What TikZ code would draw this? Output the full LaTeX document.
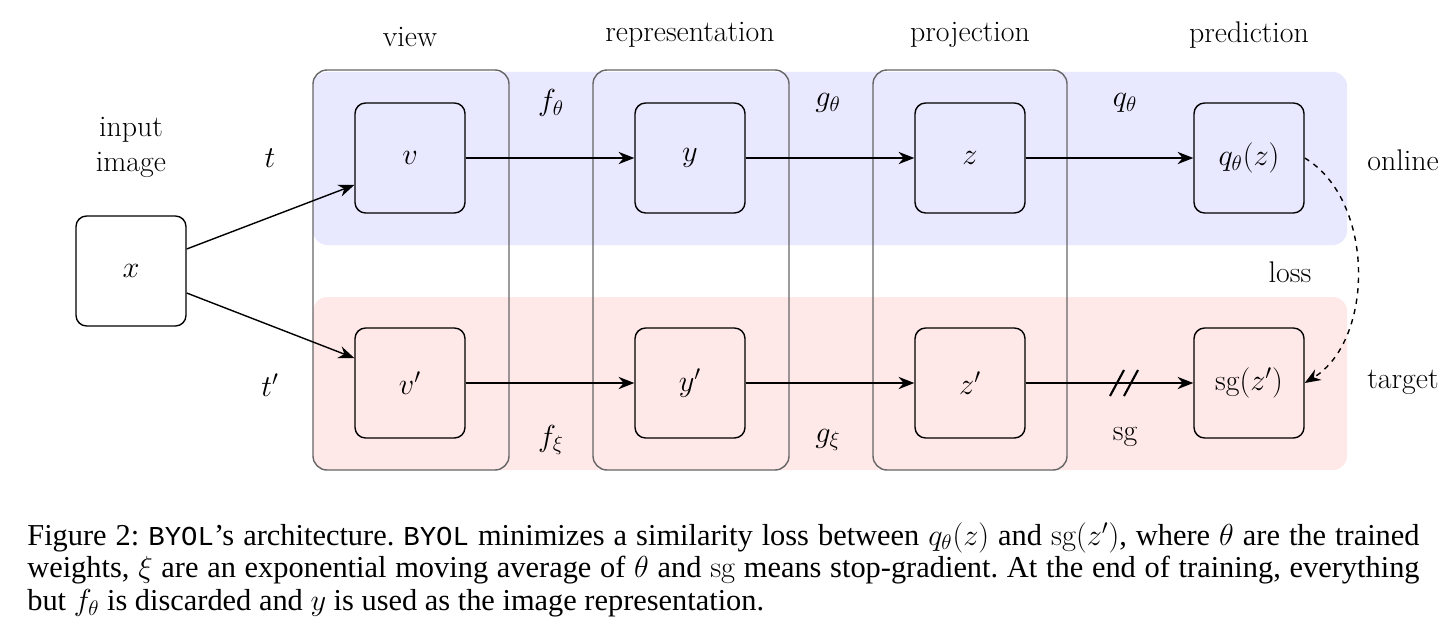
\documentclass[tikz,border=0pt]{standalone}
\usepackage{amsmath}
\usepackage{fontspec}
\newfontfamily\capfont{Liberation Serif}
\newfontfamily\capmono{Liberation Mono}[Scale=0.9]
\usetikzlibrary{arrows.meta}
\begin{document}
\frenchspacing
\begin{tikzpicture}[x=0.02cm,y=-0.02cm,
  box/.style={draw,thick,rounded corners=6pt,minimum width=2.2cm,minimum height=2.2cm,inner sep=0pt},
  grp/.style={draw=black!60,thick,rounded corners=8pt},
  lbl/.style={font=\fontsize{17}{20}\selectfont,align=center},
  arr/.style={-{Stealth[length=9pt,width=7pt]},thick}]
\useasboundingbox (0,0) rectangle (1456,635);
\fill[blue!9,rounded corners=8pt] (313,72) rectangle (1347,245);
\fill[red!9,rounded corners=8pt] (313,297) rectangle (1347,470);
\draw[grp] (313,70) rectangle (509,470);
\draw[grp] (593,70) rectangle (789,470);
\draw[grp] (873,70) rectangle (1067,470);
\begin{scope}[every node/.append style={lbl}]
\node[box,fill=white] (x) at (131,271) {$x$};
\node[box,fill=blue!9] (v) at (410,158) {$v$};
\node[box,fill=blue!9] (y) at (690,158) {$y$};
\node[box,fill=blue!9] (z) at (970,158) {$z$};
\node[box,fill=blue!9] (q) at (1249,158) {$q_\theta(z)$};
\node[box,fill=red!9] (v2) at (410,383) {$v'$};
\node[box,fill=red!9] (y2) at (690,383) {$y'$};
\node[box,fill=red!9] (z2) at (970,383) {$z'$};
\node[box,fill=red!9] (s) at (1249,383) {$\mathrm{sg}(z')$};
\node (l1) at (410,37) {view};
\node (l2) at (690,35) {representation};
\node (l3) at (970,35) {projection};
\node (l4) at (1249,35) {prediction};
\node (l5) at (131,147) {input\\image};
\node (t1) at (270,158) {$t$};
\node (t2) at (270,385) {$t'$};
\node (a1) at (551,103) {$f_\theta$};
\node (a2) at (828,103) {$g_\theta$};
\node (a3) at (1125,103) {$q_\theta$};
\node (b1) at (551,440) {$f_\xi$};
\node (b2) at (828,440) {$g_\xi$};
\node (b3) at (1125,437) {sg};
\node (o) at (1403,160) {online};
\node (lo) at (1290,272) {loss};
\node (ta) at (1403,382) {target};
\end{scope}
\draw[arr] (x.east)++(0,-22) -- (v.west|-0,185);
\draw[arr] (x.east)++(0,22) -- (v2.west|-0,358);
\draw[arr] (v) -- (y);
\draw[arr] (y) -- (z);
\draw[arr] (z) -- (q);
\draw[arr] (v2) -- (y2);
\draw[arr] (y2) -- (z2);
\draw[arr] (z2) -- (s);
\draw[very thick] (1110,396) -- (1124,370) (1124,396) -- (1138,370);
\draw[arr,dashed] (q.east) .. controls (1375,200) and (1375,340) .. (s.east);
\node[anchor=north west,text width=27.85cm,align=justify,inner sep=0pt,
  font=\capfont\fontsize{17.3}{18.7}\selectfont] (cap) at (27,522)
 {Figure 2: {\capmono BYOL}’s architecture. {\capmono BYOL} minimizes a similarity loss between $q_\theta(z)$ and $\mathrm{sg}(z')$, where $\theta$ are the trained\linebreak
 weights, $\xi$ are an exponential moving average of $\theta$ and $\mathrm{sg}$ means stop-gradient. At the end of training, everything\linebreak
 but $f_\theta$ is discarded and $y$ is used as the image representation.\par};
\end{tikzpicture}
\end{document}
